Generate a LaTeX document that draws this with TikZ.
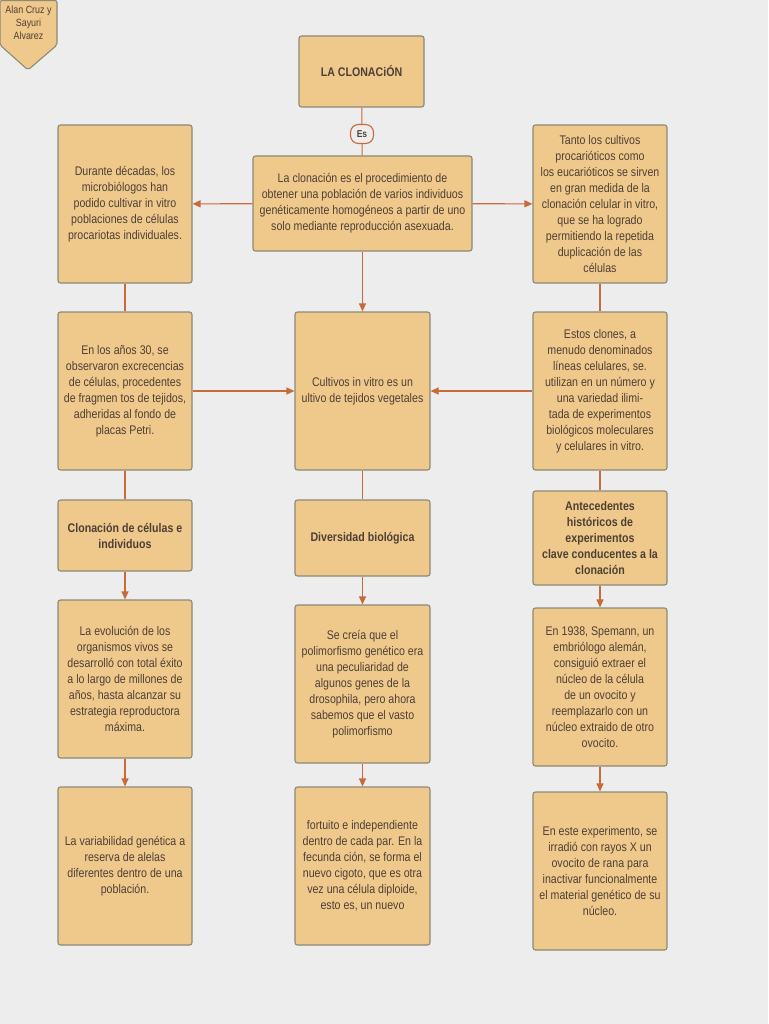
\documentclass[tikz,border=0pt]{standalone}
\usepackage{fontspec}
\setmainfont[FakeStretch=0.85]{Liberation Sans}
\usetikzlibrary{arrows.meta}
\definecolor{fondo}{HTML}{EDEDED}
\definecolor{arena}{HTML}{EFC98B}
\definecolor{borde}{HTML}{8C8A78}
\definecolor{cobre}{HTML}{C96A3A}
\definecolor{tinta}{HTML}{4E4036}

\tikzset{
  caja/.style={draw=borde, fill=arena, line width=1.1pt, rounded corners=2.5pt,
    inner sep=0pt, align=center, text=tinta, font=\fontsize{12.5}{16}\selectfont},
  titulo/.style={caja, font=\fontsize{12.5}{16}\selectfont\bfseries},
  enlace/.style={draw=cobre, line width=1.1pt},
  flecha/.style={enlace, -{Triangle[length=8pt,width=7pt]}}
}

\begin{document}
\begin{tikzpicture}[x=1pt, y=-1pt]
    % fondo 768 x 1024
    \fill[fondo] (0,0) rectangle (768,1024);
    \useasboundingbox (0,0) rectangle (768,1024);
    % etiqueta de autores
    \draw[draw=borde, fill=arena, line width=1.1pt, rounded corners=2pt]
      (0,0.5) -- (57,0.5) -- (57,45) -- (28,70) -- (0,45) -- cycle;
    \node[text=tinta, align=center, font=\fontsize{10.5}{13}\selectfont] (autores) at (28.5,23)
      {Alan Cruz y\\Sayuri\\Alvarez};

    % fila superior
    \node[titulo, minimum width=125, minimum height=71] (clonacion) at (361.5,71.5) {LA CLONACiÓN};
    \node[draw=cobre, fill=fondo, line width=1.1pt, rounded corners=8pt, text=tinta,
      font=\fontsize{10}{12}\selectfont\bfseries, minimum width=23, minimum height=19, inner sep=0pt]
      (es) at (362,134) {Es};
    \node[caja, minimum width=219, minimum height=95] (definicion) at (362.5,203.5)
      {La clonación es el procedimiento de\\obtener una población de varios individuos\\genéticamente homogéneos a partir de uno\\solo mediante reproducción asexuada.};
    \node[caja, minimum width=134, minimum height=158] (decadas) at (125,204)
      {Durante décadas, los\\microbiólogos han\\podido cultivar in vitro\\poblaciones de células\\procariotas individuales.};
    \node[caja, minimum width=134, minimum height=158] (tanto) at (600,204)
      {Tanto los cultivos\\procarióticos como\\los eucarióticos se sirven\\en gran medida de la\\clonación celular in vitro,\\que se ha logrado\\permitiendo la repetida\\duplicación de las\\células};

    % segunda fila
    \node[caja, minimum width=134, minimum height=158] (anos) at (125,391)
      {En los años 30, se\\observaron excrecencias\\de células, procedentes\\de fragmen tos de tejidos,\\adheridas al fondo de\\placas Petri.};
    \node[caja, minimum width=135, minimum height=158] (cultivos) at (362.5,391)
      {Cultivos in vitro es un\\ultivo de tejidos vegetales};
    \node[caja, minimum width=134, minimum height=158] (clones) at (600,391)
      {Estos clones, a\\menudo denominados\\líneas celulares, se.\\utilizan en un número y\\una variedad ilimi-\\tada de experimentos\\biológicos moleculares\\y celulares in vitro.};

    % tercera fila
    \node[titulo, minimum width=134, minimum height=71] (celulas) at (125,535.5)
      {Clonación de células e\\individuos};
    \node[titulo, minimum width=135, minimum height=76] (diversidad) at (362.5,538)
      {Diversidad biológica};
    \node[titulo, minimum width=134, minimum height=94] (antecedentes) at (600,538)
      {Antecedentes\\históricos de\\experimentos\\clave conducentes a la\\clonación};

    % cuarta fila
    \node[caja, minimum width=134, minimum height=158] (evolucion) at (125,679)
      {La evolución de los\\organismos vivos se\\desarrolló con total éxito\\a lo largo de millones de\\años, hasta alcanzar su\\estrategia reproductora\\máxima.};
    \node[caja, minimum width=135, minimum height=158] (creia) at (362.5,684)
      {Se creía que el\\polimorfismo genético era\\una peculiaridad de\\algunos genes de la\\drosophila, pero ahora\\sabemos que el vasto\\polimorfismo};
    \node[caja, minimum width=134, minimum height=158] (spemann) at (600,687)
      {En 1938, Spemann, un\\embriólogo alemán,\\consiguió extraer el\\núcleo de la célula\\de un ovocito y\\reemplazarlo con un\\núcleo extraido de otro\\ovocito.};

    % quinta fila
    \node[caja, minimum width=134, minimum height=158] (variabilidad) at (125,866)
      {La variabilidad genética a\\reserva de alelas\\diferentes dentro de una\\población.};
    \node[caja, minimum width=135, minimum height=158] (fortuito) at (362.5,866)
      {fortuito e independiente\\dentro de cada par. En la\\fecunda ción, se forma el\\nuevo cigoto, que es otra\\vez una célula diploide,\\esto es, un nuevo};
    \node[caja, minimum width=134, minimum height=158] (experimento) at (600,871)
      {En este experimento, se\\irradió con rayos X un\\ovocito de rana para\\inactivar funcionalmente\\el material genético de su\\núcleo.};

    % conectores
    \draw[enlace] (clonacion) -- (es);
    \draw[enlace] (es) -- (definicion);
    \draw[flecha] (definicion) -- (decadas);
    \draw[flecha] (definicion) -- (tanto);
    \draw[flecha] (definicion) -- (cultivos);
    \draw[enlace] (decadas) -- (anos);
    \draw[enlace] (tanto) -- (clones);
    \draw[flecha] (anos) -- (cultivos);
    \draw[flecha] (clones) -- (cultivos);
    \draw[enlace] (anos) -- (celulas);
    \draw[enlace] (cultivos) -- (diversidad);
    \draw[enlace] (clones) -- (antecedentes);
    \draw[flecha] (celulas) -- (evolucion);
    \draw[flecha] (diversidad) -- (creia);
    \draw[flecha] (antecedentes) -- (spemann);
    \draw[flecha] (evolucion) -- (variabilidad);
    \draw[flecha] (creia) -- (fortuito);
    \draw[flecha] (spemann) -- (experimento);
\end{tikzpicture}
\end{document}
